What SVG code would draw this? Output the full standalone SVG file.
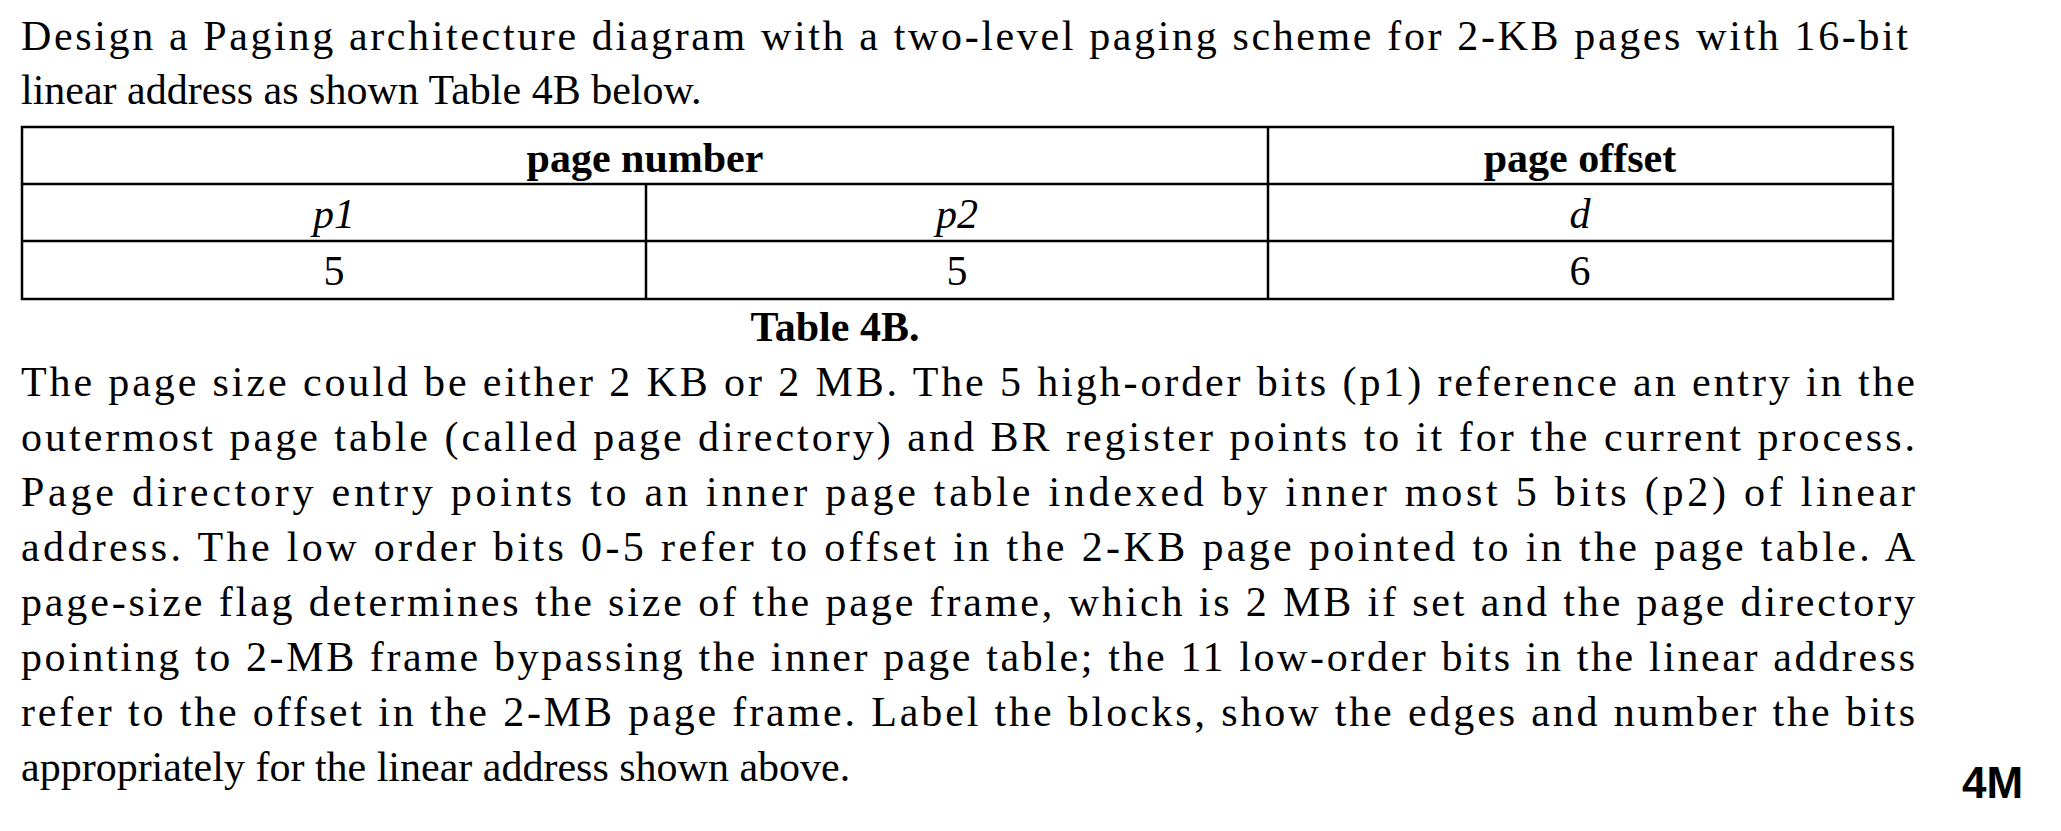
<svg xmlns="http://www.w3.org/2000/svg" width="2061" height="831" viewBox="0 0 2061 831">
<style>
.t{font-family:"Liberation Serif","Times New Roman",serif;font-size:42px;fill:#000}
.b{font-weight:bold}
.i{font-style:italic}
.c{text-anchor:middle}
.g{stroke:#000;stroke-width:2.5;fill:none}
</style>
<rect width="2061" height="831" fill="#fff"/>
<g id="intro">
<text class="t" x="21" y="50" textLength="1887" lengthAdjust="spacing">Design a Paging architecture diagram with a two-level paging scheme for 2-KB pages with 16-bit</text>
<text class="t" x="21" y="104">linear address as shown Table 4B below.</text>
</g>
<g id="table">
<rect class="g" x="22" y="127" width="1871" height="172"/>
<line class="g" x1="22" y1="184" x2="1893" y2="184"/>
<line class="g" x1="22" y1="241" x2="1893" y2="241"/>
<line class="g" x1="1268" y1="127" x2="1268" y2="299"/>
<line class="g" x1="646" y1="184" x2="646" y2="299"/>
<text class="t b c" x="645" y="172">page number</text>
<text class="t b c" x="1580" y="172">page offset</text>
<text class="t i c" x="334" y="228">p1</text>
<text class="t i c" x="957" y="228">p2</text>
<text class="t i c" x="1580" y="228">d</text>
<text class="t c" x="334" y="285">5</text>
<text class="t c" x="957" y="285">5</text>
<text class="t c" x="1580" y="285">6</text>
<text class="t b c" x="835" y="341">Table 4B.</text>
</g>
<g id="paragraph">
<text class="t" x="21" y="396" textLength="1894" lengthAdjust="spacing">The page size could be either 2 KB or 2 MB. The 5 high-order bits (p1) reference an entry in the</text>
<text class="t" x="21" y="451" textLength="1894" lengthAdjust="spacing">outermost page table (called page directory) and BR register points to it for the current process.</text>
<text class="t" x="21" y="506" textLength="1894" lengthAdjust="spacing">Page directory entry points to an inner page table indexed by inner most 5 bits (p2) of linear</text>
<text class="t" x="21" y="561" textLength="1894" lengthAdjust="spacing">address. The low order bits 0-5 refer to offset in the 2-KB page pointed to in the page table. A</text>
<text class="t" x="21" y="616" textLength="1894" lengthAdjust="spacing">page-size flag determines the size of the page frame, which is 2 MB if set and the page directory</text>
<text class="t" x="21" y="671" textLength="1894" lengthAdjust="spacing">pointing to 2-MB frame bypassing the inner page table; the 11 low-order bits in the linear address</text>
<text class="t" x="21" y="726" textLength="1894" lengthAdjust="spacing">refer to the offset in the 2-MB page frame. Label the blocks, show the edges and number the bits</text>
<text class="t" x="21" y="781">appropriately for the linear address shown above.</text>
</g>
<text x="1962" y="798" style="font-family:'Liberation Sans',Arial,sans-serif;font-weight:bold;font-size:44px">4M</text>
</svg>
